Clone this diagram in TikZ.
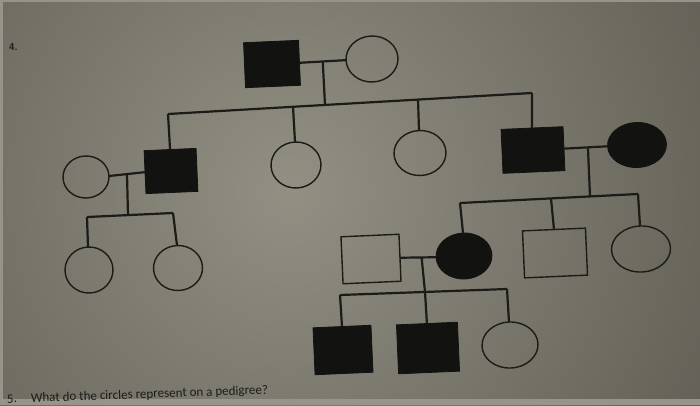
\documentclass[tikz,border=0pt]{standalone}
\usepackage{fontspec}
\newfontfamily\qfont{Carlito}
\usetikzlibrary{shapes.geometric,calc}
\definecolor{ink}{RGB}{28,27,24}
\definecolor{fillk}{RGB}{18,18,16}
\definecolor{paperin}{RGB}{146,143,131}
\definecolor{paperout}{RGB}{56,54,46}
\definecolor{edgeL}{RGB}{150,148,138}
\definecolor{band}{RGB}{150,148,140}
\begin{document}
\begin{tikzpicture}[x=1pt,y=-1pt,
  sz/.style 2 args={minimum width=#1pt,minimum height=#2pt},
  base/.style={inner sep=0pt,outer sep=0pt,rotate=2.5},
  fsq/.style={base,rectangle,fill=fillk,draw=fillk,line width=0.8pt},
  osq/.style={base,rectangle,draw=ink,line width=1.4pt},
  fci/.style={base,ellipse,fill=fillk,draw=fillk,line width=0.8pt},
  oci/.style={base,ellipse,draw=ink,line width=1.4pt},
  link/.style={draw=ink,line width=2.2pt}]
\useasboundingbox (0,0) rectangle (700,405);
% photo background
\begin{scope}
  \clip (0,0) rectangle (700,405);
  \shade[inner color=paperin,outer color=paperout] (290,190) circle (900);
  \fill[edgeL] (0,0) rectangle (3,405);
  \fill[edgeL] (0,0) rectangle (700,2);
  \fill[band] (0,399) rectangle (700,405);
\end{scope}
% texts
\node[anchor=base west,text=ink,inner sep=0pt] (num4) at (9,50) {\sffamily\bfseries\fontsize{10}{10}\selectfont 4.};
\node[anchor=base west,text=ink,inner sep=0pt,rotate=2] (q5) at (7,403)
  {\qfont\fontsize{13}{13}\selectfont 5.\hspace{14pt}What do the circles represent on a pedigree?};
% generation I
\node[fsq,sz={55}{45}] (g1m) at (272,64) {};
\node[oci,sz={52}{46}] (g1f) at (372,59) {};
% generation II
\node[oci,sz={46}{42}] (g2s) at (86,177) {};
\node[fsq,sz={52}{43}] (g2a) at (171,171) {};
\node[oci,sz={50}{46}] (g2b) at (296,165) {};
\node[oci,sz={52}{45}] (g2c) at (420,153) {};
\node[fsq,sz={62}{44}] (g2d) at (533,150) {};
\node[fci,sz={59}{45}] (g2e) at (637,145) {};
% generation III
\node[oci,sz={48}{46}] (g3a) at (89,270) {};
\node[oci,sz={49}{45}] (g3b) at (178,268) {};
\node[osq,sz={58}{47}] (g3s) at (371,259) {};
\node[fci,sz={56}{46}] (g3c) at (464,256) {};
\node[osq,sz={63}{47}] (g3d) at (555,253) {};
\node[oci,sz={59}{46}] (g3e) at (641,249) {};
% generation IV
\node[fsq,sz={58}{47}] (g4a) at (343,350) {};
\node[fsq,sz={61}{49}] (g4b) at (428,348) {};
\node[oci,sz={56}{46}] (g4c) at (510,345) {};
% line coordinates
\coordinate (d1) at ($(g1m.east)!0.5!(g1f.west)$);
\coordinate (s1L) at (168,114);
\coordinate (s1R) at (532,93);
\coordinate (s1d) at (325,105);
\coordinate (s1b) at (293,106.8);
\coordinate (s1c) at (418,99.6);
\coordinate (d2) at ($(g2s.east)!0.5!(g2a.west)$);
\coordinate (s2L) at (87,217);
\coordinate (s2R) at (173,213);
\coordinate (s2d) at (128,215);
\coordinate (d3) at ($(g2d.east)!0.55!(g2e.west)$);
\coordinate (s3L) at (460,203);
\coordinate (s3R) at (638,194);
\coordinate (s3d) at (590,196.4);
\coordinate (s3b) at (551,198.4);
\coordinate (d4) at ($(g3s.east)!0.6!(g3c.west)$);
\coordinate (s4L) at (340,295);
\coordinate (s4R) at (507,289);
\coordinate (s4d) at (425,292);
% family I
\draw[link] (g1m.east) -- (g1f.west);
\draw[link] (d1) -- (s1d);
\draw[link] (s1L) -- (s1R);
\draw[link] (s1L) -- (g2a.north);
\draw[link] (s1b) -- (g2b.north);
\draw[link] (s1c) -- (g2c.north);
\draw[link] (s1R) -- (g2d.north);
% family II-a
\draw[link] (g2s.east) -- (g2a.west);
\draw[link] (d2) -- (s2d);
\draw[link] (s2L) -- (s2R);
\draw[link] (s2L) -- (g3a.north);
\draw[link] (s2R) -- (g3b.north);
% family II-d
\draw[link] (g2d.east) -- (g2e.west);
\draw[link] (d3) -- (s3d);
\draw[link] (s3L) -- (s3R);
\draw[link] (s3L) -- (g3c.north);
\draw[link] (s3b) -- (g3d.north);
\draw[link] (s3R) -- (g3e.north);
% family III-c
\draw[link] (g3s.east) -- (g3c.west);
\draw[link] (d4) -- (s4d);
\draw[link] (s4L) -- (s4R);
\draw[link] (s4L) -- (g4a.north);
\draw[link] (s4d) -- (g4b.north);
\draw[link] (s4R) -- (g4c.north);
\end{tikzpicture}
\end{document}
